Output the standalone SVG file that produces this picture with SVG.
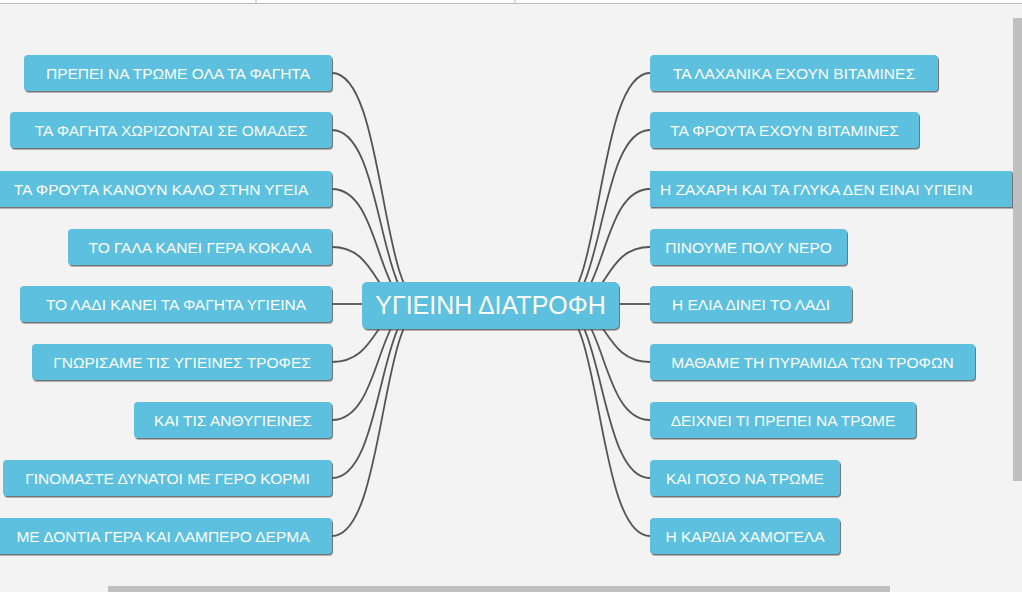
<svg xmlns="http://www.w3.org/2000/svg" width="1022" height="592" viewBox="0 0 1022 592">
<style>
.n rect{fill:#5bc0de;stroke:#6a7f88;stroke-width:0;filter:url(#sh)}
.n text{fill:#fff;font-family:"Liberation Sans",Arial,sans-serif;font-size:15.5px;text-anchor:middle}
#c path{fill:none;stroke:#555;stroke-width:1.8}
</style>
<defs><filter id="sh" x="-5%" y="-20%" width="110%" height="150%"><feDropShadow dx="1" dy="1.5" stdDeviation="0.6" flood-color="#555" flood-opacity="0.8"/></filter></defs>
<rect width="1022" height="592" fill="#f3f3f3"/>
<rect x="0" y="0" width="1022" height="3" fill="#fff"/>
<line x1="0" y1="3.5" x2="1022" y2="3.5" stroke="#bbb"/>
<line x1="256" y1="0" x2="256" y2="3" stroke="#bbb"/><line x1="515" y1="0" x2="515" y2="3" stroke="#bbb"/>
<rect x="1013" y="18" width="9" height="463" fill="#c0c0c0"/>
<rect x="108" y="586" width="782" height="6" fill="#c0c0c0"/>
<g id="c">
<path d="M332,73 C385,73 380,306 425,306"/>
<path d="M332,130 C383,130 378,306 421,306"/>
<path d="M332,189 C381,189 376,306 417,306"/>
<path d="M332,247 C379,247 374,306 413,306"/>
<path d="M332,304 L362,304"/>
<path d="M332,362 C379,362 374,306 413,306"/>
<path d="M332,420 C381,420 376,306 417,306"/>
<path d="M332,478 C383,478 378,306 421,306"/>
<path d="M332,536 C385,536 380,306 425,306"/>
<path d="M650,73 C597,73 602,306 557,306"/>
<path d="M650,130 C599,130 604,306 561,306"/>
<path d="M650,189 C601,189 606,306 565,306"/>
<path d="M650,247 C603,247 608,306 569,306"/>
<path d="M650,304 L620,304"/>
<path d="M650,362 C603,362 608,306 569,306"/>
<path d="M650,420 C601,420 606,306 565,306"/>
<path d="M650,478 C599,478 604,306 561,306"/>
<path d="M650,536 C597,536 602,306 557,306"/>
</g>
<g id="center" class="n"><rect x="362" y="282" width="257" height="47" rx="5"/><text x="490.5" y="314" style="font-size:25px">ΥΓΙΕΙΝΗ ΔΙΑΤΡΟΦΗ</text></g>
<g id="l1" class="n"><rect x="24" y="55" width="308" height="36" rx="4"/><text x="178" y="79">ΠΡΕΠΕΙ ΝΑ ΤΡΩΜΕ ΟΛΑ ΤΑ ΦΑΓΗΤΑ</text></g>
<g id="l2" class="n"><rect x="10" y="112" width="322" height="36" rx="4"/><text x="171" y="136">ΤΑ ΦΑΓΗΤΑ ΧΩΡΙΖΟΝΤΑΙ ΣΕ ΟΜΑΔΕΣ</text></g>
<g id="l3" class="n"><rect x="-10" y="171" width="342" height="36" rx="4"/><text x="161" y="195">ΤΑ ΦΡΟΥΤΑ ΚΑΝΟΥΝ ΚΑΛΟ ΣΤΗΝ ΥΓΕΙΑ</text></g>
<g id="l4" class="n"><rect x="68" y="229" width="264" height="36" rx="4"/><text x="200" y="253">ΤΟ ΓΑΛΑ ΚΑΝΕΙ ΓΕΡΑ ΚΟΚΑΛΑ</text></g>
<g id="l5" class="n"><rect x="20" y="286" width="312" height="36" rx="4"/><text x="176" y="310">ΤΟ ΛΑΔΙ ΚΑΝΕΙ ΤΑ ΦΑΓΗΤΑ ΥΓΙΕΙΝΑ</text></g>
<g id="l6" class="n"><rect x="32" y="344" width="300" height="36" rx="4"/><text x="182" y="368">ΓΝΩΡΙΣΑΜΕ ΤΙΣ ΥΓΙΕΙΝΕΣ ΤΡΟΦΕΣ</text></g>
<g id="l7" class="n"><rect x="134" y="402" width="198" height="36" rx="4"/><text x="233" y="426">ΚΑΙ ΤΙΣ ΑΝΘΥΓΙΕΙΝΕΣ</text></g>
<g id="l8" class="n"><rect x="3" y="460" width="329" height="36" rx="4"/><text x="167.5" y="484">ΓΙΝΟΜΑΣΤΕ ΔΥΝΑΤΟΙ ΜΕ ΓΕΡΟ ΚΟΡΜΙ</text></g>
<g id="l9" class="n"><rect x="-14" y="518" width="346" height="36" rx="4"/><text x="163" y="542">ΜΕ ΔΟΝΤΙΑ ΓΕΡΑ ΚΑΙ ΛΑΜΠΕΡΟ ΔΕΡΜΑ</text></g>
<g id="r1" class="n"><rect x="650" y="55" width="288" height="36" rx="4"/><text x="794" y="79">ΤΑ ΛΑΧΑΝΙΚΑ ΕΧΟΥΝ ΒΙΤΑΜΙΝΕΣ</text></g>
<g id="r2" class="n"><rect x="650" y="112" width="269" height="36" rx="4"/><text x="784.5" y="136">ΤΑ ΦΡΟΥΤΑ ΕΧΟΥΝ ΒΙΤΑΜΙΝΕΣ</text></g>
<g id="r3" class="n"><rect x="650" y="171" width="362" height="36" rx="0"/><text x="660" y="195" style="text-anchor:start">Η ΖΑΧΑΡΗ ΚΑΙ ΤΑ ΓΛΥΚΑ ΔΕΝ ΕΙΝΑΙ ΥΓΙΕΙΝ</text></g>
<g id="r4" class="n"><rect x="650" y="229" width="197" height="36" rx="4"/><text x="748.5" y="253">ΠΙΝΟΥΜΕ ΠΟΛΥ ΝΕΡΟ</text></g>
<g id="r5" class="n"><rect x="650" y="286" width="202" height="36" rx="4"/><text x="751" y="310">Η ΕΛΙΑ ΔΙΝΕΙ ΤΟ ΛΑΔΙ</text></g>
<g id="r6" class="n"><rect x="650" y="344" width="325" height="36" rx="4"/><text x="812.5" y="368">ΜΑΘΑΜΕ ΤΗ ΠΥΡΑΜΙΔΑ ΤΩΝ ΤΡΟΦΩΝ</text></g>
<g id="r7" class="n"><rect x="650" y="402" width="266" height="36" rx="4"/><text x="783" y="426">ΔΕΙΧΝΕΙ ΤΙ ΠΡΕΠΕΙ ΝΑ ΤΡΩΜΕ</text></g>
<g id="r8" class="n"><rect x="650" y="460" width="190" height="36" rx="4"/><text x="745" y="484">ΚΑΙ ΠΟΣΟ ΝΑ ΤΡΩΜΕ</text></g>
<g id="r9" class="n"><rect x="650" y="518" width="190" height="36" rx="4"/><text x="745" y="542">Η ΚΑΡΔΙΑ ΧΑΜΟΓΕΛΑ</text></g>
</svg>
